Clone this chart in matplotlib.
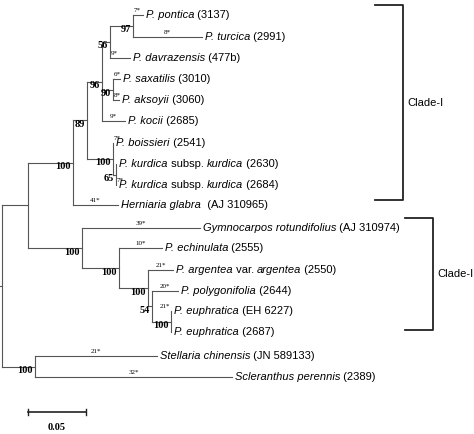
import matplotlib
matplotlib.use("Agg")
import matplotlib.pyplot as plt

# tips: name segments (text, italic), row (pixel y), branch end x, small branch label
tip_names = [
    [("P. pontica", 1), (" (3137)", 0)],
    [("P. turcica", 1), (" (2991)", 0)],
    [("P. davrazensis", 1), (" (477b)", 0)],
    [("P. saxatilis", 1), (" (3010)", 0)],
    [("P. aksoyii", 1), (" (3060)", 0)],
    [("P. kocii", 1), (" (2685)", 0)],
    [("P. boissieri", 1), (" (2541)", 0)],
    [("P. kurdica", 1), (" subsp. ", 0), ("kurdica", 1), (" (2630)", 0)],
    [("P. kurdica", 1), (" subsp. ", 0), ("kurdica", 1), (" (2684)", 0)],
    [("Herniaria glabra", 1), ("  (AJ 310965)", 0)],
    [("Gymnocarpos rotundifolius", 1), (" (AJ 310974)", 0)],
    [("P. echinulata", 1), (" (2555)", 0)],
    [("P. argentea", 1), (" var. ", 0), ("argentea", 1), (" (2550)", 0)],
    [("P. polygonifolia", 1), (" (2644)", 0)],
    [("P. euphratica", 1), (" (EH 6227)", 0)],
    [("P. euphratica", 1), (" (2687)", 0)],
    [("Stellaria chinensis", 1), (" (JN 589133)", 0)],
    [("Scleranthus perennis", 1), (" (2389)", 0)],
]
tip_rows = [15, 37, 58, 79, 100, 121, 143, 164, 185, 205, 228, 248, 270, 291, 311, 332, 356, 377]
tip_x = [143, 202, 130, 120, 119, 125, 113, 116, 116, 118, 200, 162, 173, 178, 171, 171, 157, 232]
tip_small = ["7*", "8*", "9*", "6*", "8*", "9*", "7*", "", "7*", "41*", "39*", "10*", "21*", "20*", "21*", "", "21*", "32*"]

# internal nodes: name -> (x, children, bootstrap)
nodes = {
    "n97": (133, ["t0", "t1"], "97"),
    "n56": (110, ["n97", "t2"], "56"),
    "n90": (113, ["t3", "t4"], "90"),
    "n96": (102, ["n56", "n90", "t5"], "96"),
    "n65": (116, ["t7", "t8"], "65"),
    "nb": (113, ["t6", "n65"], "100"),
    "n89": (87, ["n96", "nb"], "89"),
    "nI": (73, ["n89", "t9"], "100"),
    "ne": (171, ["t14", "t15"], "100"),
    "n54": (152, ["t13", "ne"], "54"),
    "na": (148, ["t12", "n54"], "100"),
    "nc": (119, ["t11", "na"], "100"),
    "nII": (82, ["t10", "nc"], "100"),
    "nIn": (28, ["nI", "nII"], ""),
    "nS": (35, ["t16", "t17"], "100"),
    "root": (2, ["nIn", "nS"], ""),
}
clades = ["Clade-I", "Clade-II"]
clade_top = [5, 218]
clade_bottom = [200, 330]
scale_len = 0.05
px_per_unit = 58 / 0.05

fig = plt.figure(figsize=(4.74, 4.34), dpi=100)
ax = fig.add_axes([0, 0, 1, 1])
ax.set_xlim(0, 474)
ax.set_ylim(434, 0)
ax.axis("off")
lc = "#555555"
lw = 0.8
fam = "Liberation Sans"
ser = "Liberation Serif"
fs = 8

pos = {}
for i, y in enumerate(tip_rows):
    pos[f"t{i}"] = (tip_x[i], y)


def place(name):
    if name in pos:
        return pos[name]
    x, kids, _ = nodes[name]
    ys = [place(k)[1] for k in kids]
    pos[name] = (x, (min(ys) + max(ys)) / 2)
    return pos[name]


place("root")
for name, (x, kids, bs) in nodes.items():
    ys = [pos[k][1] for k in kids]
    ax.plot([x, x], [min(ys), max(ys)], color=lc, lw=lw)
    for k in kids:
        ax.plot([x, pos[k][0]], [pos[k][1], pos[k][1]], color=lc, lw=lw)
    if bs:
        ax.text(x - 2, pos[name][1] + 4, bs, fontsize=7.5, fontweight="bold",
                family=ser, ha="right", va="center")
ax.plot([0, 2], [pos["root"][1]] * 2, color=lc, lw=lw)

parent = {}
for name, (x, kids, _) in nodes.items():
    for k in kids:
        parent[k] = x

for i, segs in enumerate(tip_names):
    x, y = tip_x[i], tip_rows[i]
    prev = ax.text(x + 3, y, segs[0][0], fontsize=fs, family=fam,
                   style="italic" if segs[0][1] else "normal", va="center")
    for txt, it in segs[1:]:
        prev = ax.annotate(txt, xy=(1, 0.5), xycoords=prev, va="center", fontsize=fs,
                           family=fam, style="italic" if it else "normal")
    if tip_small[i]:
        px = parent[f"t{i}"]
        if x - px > 20:
            sx, ha = (px + x) / 2, "center"
        elif i == 14:
            sx, ha = px - 1, "right"
        else:
            sx, ha = px + 1, "left"
        ax.text(sx, y - 2, tip_small[i], fontsize=5, family=ser, ha=ha, va="bottom")

for lab, y0, y1, xb in zip(clades, clade_top, clade_bottom, [403, 433]):
    ax.plot([xb - 28, xb, xb, xb - 28], [y0, y0, y1, y1], color="#222222", lw=1.3)
    ax.text(xb + 4, (y0 + y1) / 2, lab, fontsize=fs, family=fam, va="center")

x0 = 28
x1 = x0 + scale_len * px_per_unit
ax.plot([x0, x1], [412, 412], color="#222222", lw=1.2)
ax.plot([x0, x0], [409, 415], color="#222222", lw=1)
ax.plot([x1, x1], [409, 415], color="#222222", lw=1)
ax.text((x0 + x1) / 2, 428, "0.05", fontsize=7.5, fontweight="bold", family=ser, ha="center", va="center")

fig.savefig("out.png", dpi=100)
